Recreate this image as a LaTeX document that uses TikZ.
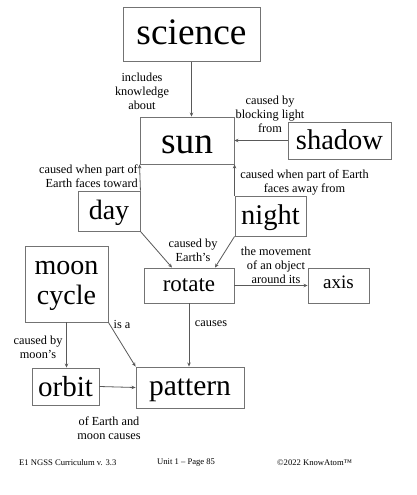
\documentclass[tikz,border=0pt]{standalone}
\usepackage{fontspec}
\setmainfont{Liberation Serif}
\usetikzlibrary{arrows.meta}
\begin{document}
\begin{tikzpicture}[x=1pt,y=-1pt,
  box/.style={draw=black!55, line width=0.9pt, inner sep=0pt, rectangle, align=center, text depth=0pt},
  lbl/.style={font=\fontsize{12.3}{14}\selectfont, align=center, inner sep=0pt},
  foot/.style={font=\fontsize{8.6}{10}\selectfont, anchor=west, inner sep=0pt},
  arr/.style={draw=black!65, line width=0.8pt, -{Stealth[length=4pt,width=3.5pt]}}]
\useasboundingbox[fill=white] (0,0) rectangle (416,495);
% boxes
\node[box, minimum width=137pt, minimum height=54.5pt, font=\fontsize{37.4}{37}\selectfont, text height=19.6pt] (science) at (191.5,34.5) {science};
\node[box, minimum width=94pt, minimum height=47pt, font=\fontsize{37.4}{37}\selectfont, text height=25.6pt] (sun) at (187,140.5) {sun};
\node[box, minimum width=103pt, minimum height=37pt, font=\fontsize{28.5}{28}\selectfont, text height=17.6pt] (shadow) at (339.5,140.5) {shadow};
\node[box, minimum width=62pt, minimum height=40pt, font=\fontsize{28}{28}\selectfont, text height=16.6pt] (day) at (109,211) {day};
\node[box, minimum width=71pt, minimum height=40pt, font=\fontsize{28.5}{28}\selectfont, text height=16.6pt] (night) at (270.5,216) {night};
\node[box, minimum width=83pt, minimum height=76pt, font=\fontsize{28}{30}\selectfont, text height=40pt, text depth=0pt] (moon) at (66.5,284) {moon\\cycle};
\node[box, minimum width=90pt, minimum height=35pt, font=\fontsize{23}{23}\selectfont, text height=11pt] (rotate) at (189,285.5) {rotate};
\node[box, minimum width=61pt, minimum height=35pt, font=\fontsize{19}{19}\selectfont, text height=5.6pt] (axis) at (338.5,285.5) {axis};
\node[box, minimum width=67pt, minimum height=37pt, font=\fontsize{29}{29}\selectfont, text height=20.4pt] (orbit) at (65.5,386.5) {orbit};
\node[box, minimum width=108pt, minimum height=41pt, font=\fontsize{29.5}{29}\selectfont, text height=15pt] (pattern) at (190,387.5) {pattern};
% connectors
\draw[arr] (science.south) -- (science.south |- sun.north);
\draw[arr] (shadow.west) -- (shadow.west -| sun.east);
\draw[arr] (day.north east) -- (sun.south west);
\draw[arr] (night.north west) -- (night.north west |- sun.south);
\draw[arr] (day.south east) -- ([xshift=-17pt]rotate.north);
\draw[arr] (night.south west) -- ([xshift=26pt]rotate.north);
\draw[arr] (rotate.east) -- (axis.west);
\draw[arr] (rotate.south) -- (rotate.south |- pattern.north);
\draw[arr] (moon.south) -- (moon.south |- orbit.north);
\draw[arr] (moon.south east) -- (pattern.north west);
\draw[arr] (orbit.east) -- (pattern.west);
% labels
\node[lbl] (l1) at (142,91) {includes\\knowledge\\about};
\node[lbl] (l2) at (270,114) {caused by\\blocking light\\from};
\node[lbl, align=right, anchor=east] (l3) at (138,176) {caused when part of\\Earth faces toward};
\node[lbl] (l4) at (304.5,182) {caused when part of Earth\\faces away from};
\node[lbl] (l5) at (193,250) {caused by\\Earth’s};
\node[lbl] (l6) at (276,265) {the movement\\of an object\\around its};
\node[lbl] (l7) at (211,324) {causes};
\node[lbl] (l8) at (122,324) {is a};
\node[lbl] (l9) at (38,347) {caused by\\moon’s};
\node[lbl] (l10) at (109,428) {of Earth and\\moon causes};
% footer
\node[foot] (f1) at (19,463) {E1 NGSS Curriculum v. 3.3};
\node[foot] (f2) at (157,463) {Unit 1 – Page 85};
\node[foot] (f3) at (277,463) {©2022 KnowAtom™};
\end{tikzpicture}
\end{document}
